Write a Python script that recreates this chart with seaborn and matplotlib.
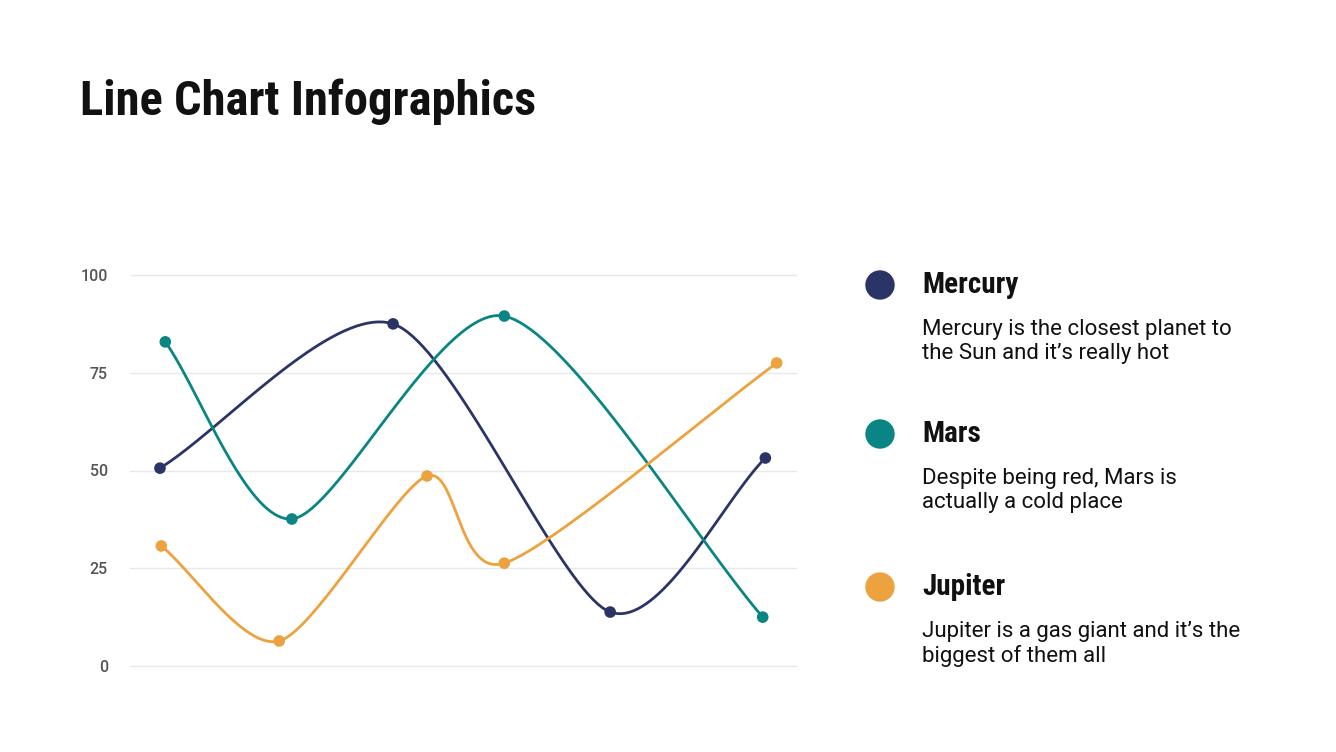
import numpy as np
import matplotlib
matplotlib.use("Agg")
import matplotlib.pyplot as plt
import seaborn as sns

names = ["Mercury", "Mars", "Jupiter"]
colors = ["#2b3467", "#0b8484", "#eca23f"]
descs = ["Mercury is the closest planet to\nthe Sun and it’s really hot",
         "Despite being red, Mars is\nactually a cold place",
         "Jupiter is a gas giant and it’s the\nbiggest of them all"]
mercury_x = [4.5, 39.5, 72.1, 95.4]
mercury_y = [50.6, 87.5, 13.8, 53.2]
mars_x = [5.3, 24.3, 56.2, 95.0]
mars_y = [82.9, 37.6, 89.5, 12.5]
jupiter_x = [4.7, 22.4, 44.6, 56.2, 97.1]
jupiter_y = [30.7, 6.4, 48.6, 26.3, 77.5]
yticks = [0, 25, 50, 75, 100]

def spline(x, y, n=40, k=0.8):
    x = np.asarray(x, float); y = np.asarray(y, float)
    px = np.concatenate([[2*x[0]-x[1]], x, [2*x[-1]-x[-2]]])
    py = np.concatenate([[2*y[0]-y[1]], y, [2*y[-1]-y[-2]]])
    ox, oy = [], []
    t = np.linspace(0, 1, n)
    h00 = 2*t**3-3*t**2+1; h10 = t**3-2*t**2+t; h01 = -2*t**3+3*t**2; h11 = t**3-t**2
    for i in range(1, len(px)-2):
        for P, out in ((px, ox), (py, oy)):
            m1 = k*0.5*(P[i+1]-P[i-1]); m2 = k*0.5*(P[i+2]-P[i])
            out.extend(h00*P[i] + h10*m1 + h01*P[i+1] + h11*m2)
    return np.array(ox), np.array(oy)

sns.set_theme(style="white")
plt.rcParams['font.family'] = ['Roboto', 'DejaVu Sans']
fig = plt.figure(figsize=(13.36, 7.52), dpi=100)
ax = fig.add_axes([130/1336, 1-666/752, 666/1336, 391/752])
for (xs, ys), c in zip([(mercury_x, mercury_y), (mars_x, mars_y), (jupiter_x, jupiter_y)], colors):
    sx, sy = spline(xs, ys)
    sns.lineplot(x=sx, y=sy, ax=ax, color=c, lw=2, sort=False, estimator=None)
    sns.scatterplot(x=xs, y=ys, ax=ax, color=c, s=70, edgecolor="none", zorder=5, clip_on=False)
ax.set_xlim(0, 100); ax.set_ylim(0, 100)
ax.set_yticks(yticks)
ax.set_xticks([])
ax.grid(axis="y", color="#e8e8e8", lw=1, clip_on=False)
for s in ax.spines.values(): s.set_visible(False)
ax.tick_params(axis="y", length=0, pad=16, labelsize=11.5, labelcolor="#555555")
for l in ax.get_yticklabels(): l.set_fontweight("medium")

title_font = ['Liberation Sans Narrow', 'Roboto Condensed', 'DejaVu Sans']
fig.text(80/1336, 1-102/752, "Line Chart Infographics", fontsize=35, fontweight="bold",
         family=title_font, va="center", color="#111111")
for i, (n, c, d) in enumerate(zip(names, colors, descs)):
    yc = [285, 434, 587][i]
    fig.patches.append(matplotlib.patches.Ellipse((880/1336, 1-yc/752), 28/1336, 28/752,
                       transform=fig.transFigure, color=c))
    fig.text(922/1336, 1-yc/752, n, fontsize=21, fontweight="bold", family=title_font,
             va="center", color="#111111")
    fig.text(922/1336, 1-(yc+34)/752, d, fontsize=16, va="top", color="#111111", linespacing=1.2)
fig.savefig("out.png", dpi=100)
